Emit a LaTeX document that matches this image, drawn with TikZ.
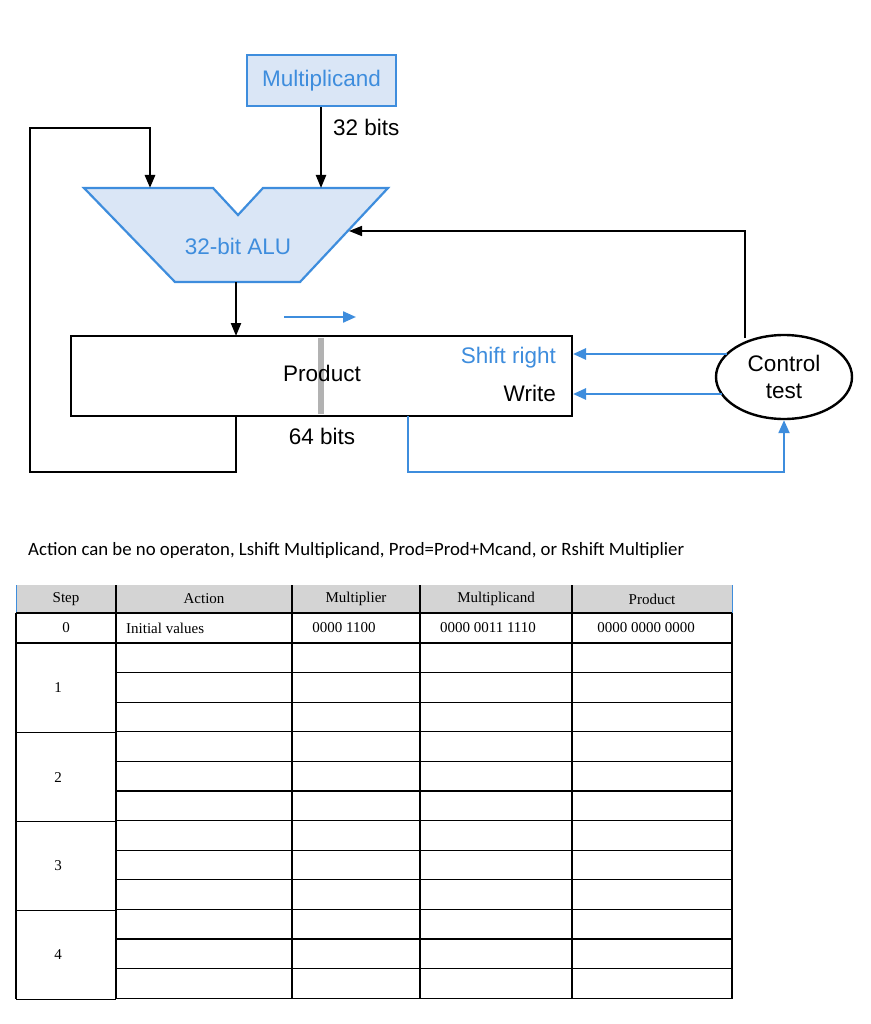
\documentclass[tikz,border=0pt]{standalone}
\usepackage{fontspec}
\setmainfont{Liberation Sans}
\newfontfamily\calib{Carlito}
\newfontfamily\tms{Liberation Serif}
\usetikzlibrary{arrows.meta,shapes.geometric}
\definecolor{fblue}{HTML}{DAE6F6}
\definecolor{lblue}{HTML}{3E8DDD}
\begin{document}
\begin{tikzpicture}[x=1pt,y=-1pt,
  blk/.style={draw=black,line width=2.4pt},
  arr/.style={-{Triangle[length=13pt,width=10pt]},line width=2.2pt},
  barr/.style={-{Triangle[length=13pt,width=11pt]},line width=2.2pt,draw=lblue,color=lblue},
  lbl/.style={font=\fontsize{22.5}{26}\selectfont,inner sep=0pt},
  cell/.style={font=\tms\fontsize{15}{17}\selectfont,inner sep=0pt}]
\useasboundingbox (0,0) rectangle (870,1024);
% Multiplicand
\node[draw=lblue,fill=fblue,line width=2.4pt,minimum width=149pt,minimum height=51pt,inner sep=0pt,font=\fontsize{22.5}{26}\selectfont,text=lblue] (mc) at (321.5,80.5) {Multiplicand};
% ALU
\draw[draw=lblue,fill=fblue,line width=2.2pt] (84,188) -- (213,188) -- (238,215) -- (263,188) -- (388,188) -- (300,282) -- (175,282) -- cycle;
\node[lbl,text=lblue] (alu) at (238,246) {32-bit ALU};
\coordinate (aluin1) at (150,188);
\coordinate (aluin2) at (321,188);
\coordinate (aluout) at (236,282);
\coordinate (aluctl) at (349,231);
\draw[arr] (mc.south -| aluin2) -- (aluin2);
\node[lbl,anchor=west] (b32) at (333,127) {32 bits};
% Product
\draw[blk,fill=white] (71,336) rectangle (572,416);
\coordinate (prodtop) at (236,336);
\coordinate (prodbot) at (236,416);
\draw[line width=6pt,draw=black!30] (321,338) -- (321,414);
\node[lbl] (prod) at (322,373) {Product};
\node[lbl,anchor=east,text=lblue] (sr) at (556,358) {Shift right};
\node[lbl,anchor=east] (wr) at (556,393) {Write};
\node[lbl] (b64) at (322,436) {64 bits};
\draw[arr] (aluout) -- (prodtop);
\draw[arr,line width=2.8pt] (prodbot) -- (236,472) -- (30,472) -- (30,128) -- (150,128) -- (aluin1);
\draw[barr] (284,317) -- (356,317);
% Control
\node[draw,ellipse,line width=2.4pt,minimum width=136pt,minimum height=84pt,inner sep=0pt,align=center,font=\fontsize{22.5}{27}\selectfont] (ct) at (784,377) {Control\\test};
\coordinate (c1) at (727,354);
\coordinate (c2) at (722,394);
\draw[barr,line width=2.6pt] (c1) -- (573,354);
\draw[barr,line width=2.6pt] (c2) -- (573,394);
\draw[arr,line width=1.6pt] (745,338) -- (745,231) -- (aluctl);
\draw[barr] (408,416) -- (408,472) -- (784,472) -- (ct.south);
% caption
\node[anchor=west,inner sep=0pt,font=\calib\fontsize{18.8}{22}\selectfont] (cap) at (28,550) {Action can be no operaton, Lshift Multiplicand, Prod=Prod+Mcand, or Rshift Multiplier};
% table
\fill[black!17] (16,585) rectangle (732,613);
\draw[lblue,line width=1pt] (16,585) -- (16,613) (732,585) -- (732,613);
\foreach \y in {613,643} \draw[line width=1.2pt] (16,\y) -- (732,\y);
\foreach \i in {1,...,12} {
  \pgfmathsetmacro\yy{643+\i*29.6}
  \draw[line width=1.2pt] (116,\yy) -- (732,\yy);
}
\foreach \y in {732.8,821.6,910.4,999.2} \draw[line width=1.2pt] (16,\y) -- (116,\y);
\draw[line width=1.2pt] (16,613) -- (16,999.2) (732,613) -- (732,999.2);
\foreach \x in {116,292,420,572} \draw[line width=1.2pt] (\x,585) -- (\x,999.2);
\node[cell] (h1) at (66,599) {Step};
\node[cell] (h2) at (204,599) {Action};
\node[cell] (h3) at (356,599) {Multiplier};
\node[cell] (h4) at (496,599) {Multiplicand};
\node[cell] (h5) at (652,599) {Product};
\node[cell] (r0) at (66,628) {0};
\node[cell,anchor=west] (r0a) at (126,628) {Initial values};
\node[cell] (r0b) at (344,628) {0000 1100};
\node[cell] (r0c) at (488,628) {0000 0011 1110};
\node[cell] (r0d) at (646,628) {0000 0000 0000};
\node[cell] (s1) at (58,688) {1};
\node[cell] (s2) at (58,778) {2};
\node[cell] (s3) at (58,866) {3};
\node[cell] (s4) at (58,955) {4};
\end{tikzpicture}
\end{document}
